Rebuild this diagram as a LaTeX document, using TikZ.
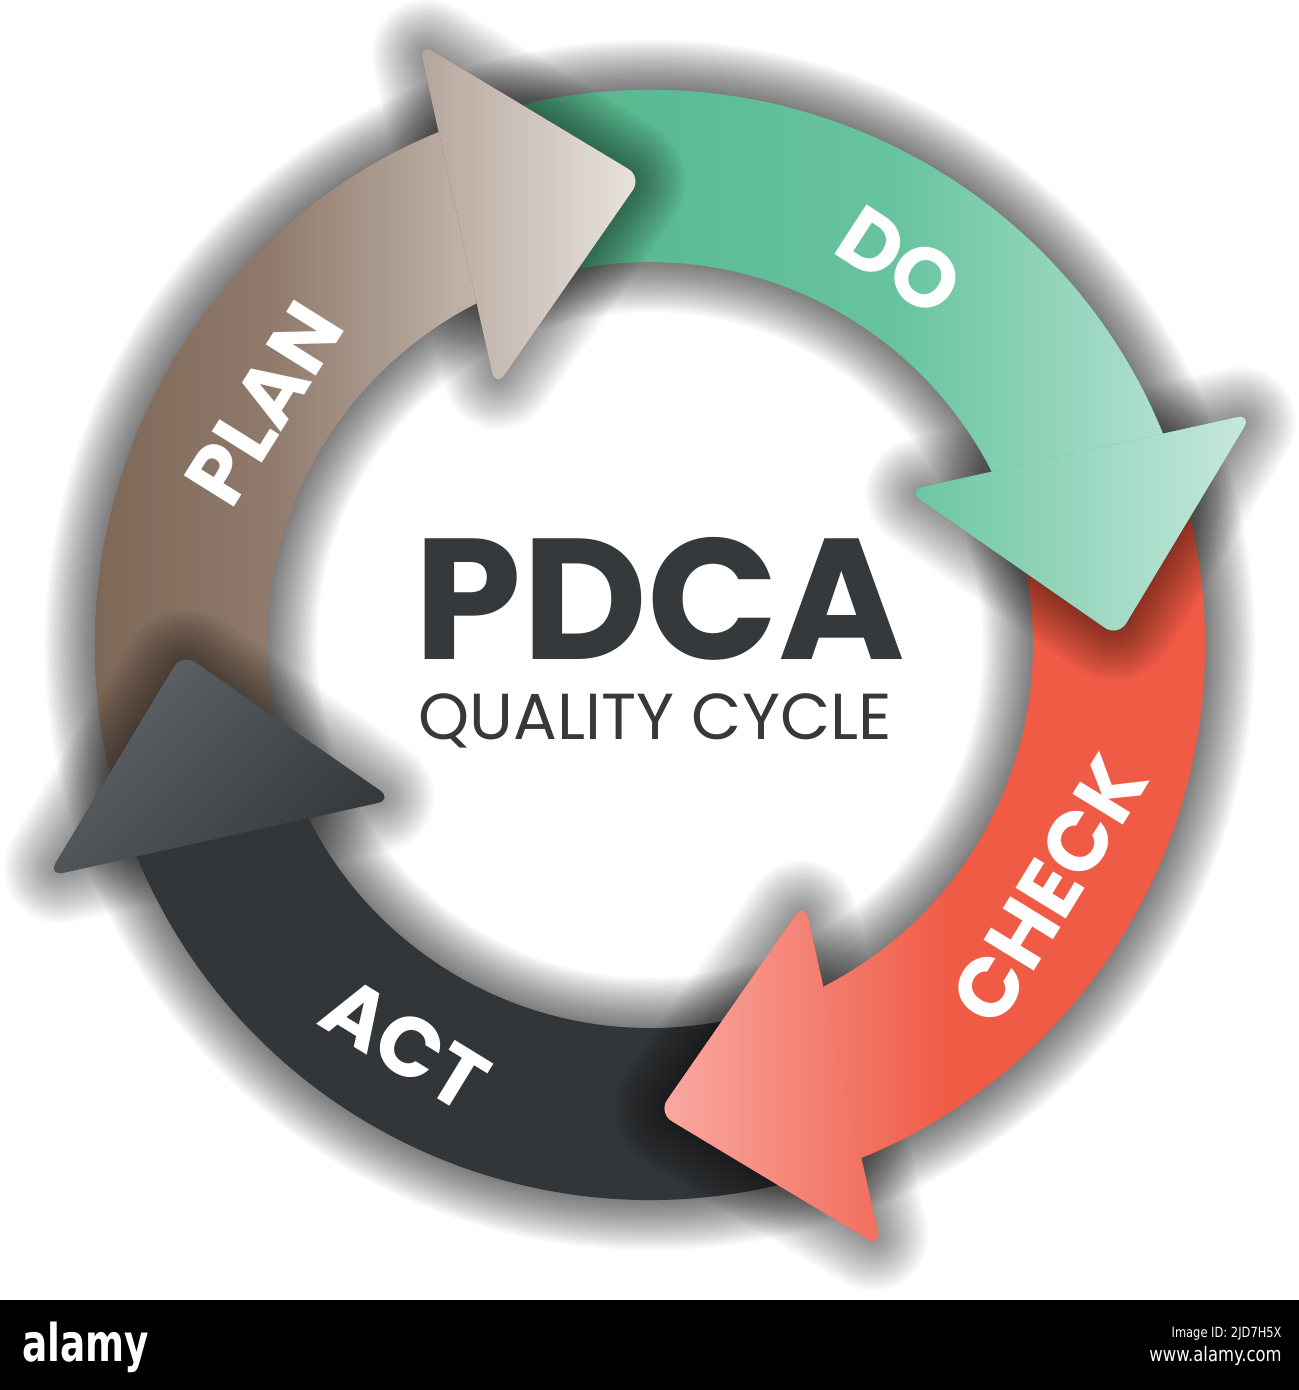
\documentclass[tikz,border=0pt]{standalone}
\usepackage{fontspec}
\newfontfamily\pop{Poppins}
\newfontfamily\dvs{DejaVu Sans}
\definecolor{brownA}{HTML}{7D6858}
\definecolor{brownM}{HTML}{8F7A6B}
\definecolor{brownB}{HTML}{ECE7E2}
\definecolor{greenA}{HTML}{55B68D}
\definecolor{greenM}{HTML}{68C4A0}
\definecolor{greenB}{HTML}{CBEADF}
\definecolor{redA}{HTML}{F05B46}
\definecolor{redL}{HTML}{F9ACA5}
\definecolor{darkA}{HTML}{323639}
\definecolor{darkL}{HTML}{62686D}
\definecolor{txtdark}{HTML}{35393C}
% band from angle #1 (start, under previous head) clockwise to just inside own head (tip angle #2)
\newcommand\bandpath[2]{(#1:555) arc[start angle=#1, end angle=#2+21, radius=555] -- (#2+25:383) arc[start angle=#2+25, end angle=#1, radius=383] -- cycle}
\newcommand\headpath[1]{[rounded corners=8pt] (#1+20:645) -- (#1:468) -- (#1+30:300) -- cycle}
\newcommand\brownfill{\fill[brownA] (-700,-700) rectangle (700,700);
  \shade[left color=brownA, right color=brownM] (-555,-700) rectangle (-380,700);
  \shade[left color=brownM, right color=brownB] (-380.5,-700) rectangle (0,700);}
\newcommand\greenfill{\fill[greenA] (-700,-700) rectangle (700,700);
  \shade[left color=greenA, right color=greenM] (-110,-700) rectangle (250,700);
  \shade[left color=greenM, right color=greenB] (249.5,-700) rectangle (615,700);}
\newcommand\redfill{\fill[redA] (-700,-700) rectangle (700,700); \shade[left color=redL, right color=redA] (0,-700) rectangle (300,700);}
\newcommand\darkbandfill{\fill[darkA] (-700,-700) rectangle (700,700);}
\newcommand\darkheadfill{\fill[darkA] (-700,-700) rectangle (700,700); \shade[top color=darkL, bottom color=darkA, shading angle=45] (-620,-240) rectangle (-240,10);}
% soft shadow: many stacked translucent strokes of growing width
\newcommand\softshadow[2][0.03]{\foreach \k in {1,...,20}{\path[draw=black, line width=2.5*\k pt, draw opacity=#1, line join=round] #2;}}
\newcommand\headshadow[3]{\begin{scope}[even odd rule]\clip (-900,-900) rectangle (900,900) \bandpath{#1}{#2}; \softshadow[0.022]{\headpath{#3}} \end{scope}}
\tikzset{
  lbl/.style={text=white, font=\pop\bfseries\fontsize{42}{42}\selectfont, inner sep=0pt}
}
\begin{document}
\begin{tikzpicture}[x=0.5pt,y=0.5pt]
\useasboundingbox (0,0) rectangle (1299,1390);
\fill[white] (0,0) rectangle (1299,1390);
\begin{scope}[shift={(650,745)}]
  % band shadows
  \softshadow{\bandpath{197}{91}}
  \softshadow{\bandpath{107}{1}}
  \softshadow{\bandpath{17}{-89}}
  \softshadow{\bandpath{287}{181}}
  % bands
  \begin{scope}\clip \bandpath{197}{91}; \brownfill \end{scope}
  \begin{scope}\clip \bandpath{107}{1}; \greenfill \end{scope}
  \begin{scope}\clip \bandpath{17}{-89}; \redfill \end{scope}
  \begin{scope}\clip \bandpath{287}{181}; \darkbandfill \end{scope}
  % heads
  \headshadow{197}{91}{91}
  \begin{scope}\clip \headpath{91}; \brownfill \end{scope}
  \headshadow{107}{1}{1}
  \begin{scope}\clip \headpath{1}; \greenfill \end{scope}
  \headshadow{17}{-89}{-89}
  \begin{scope}\clip \headpath{-89}; \redfill \end{scope}
  \headshadow{287}{181}{181}
  \begin{scope}\clip \headpath{181}; \darkheadfill \end{scope}
  % labels
  \node[lbl, rotate=58] (plan) at (148:455) {PLAN};
  \node[lbl, rotate=-33] (do) at (57:458) {DO};
  \node[lbl, rotate=58.5] (check) at (-31.5:468) {CHECK};
  \node[lbl, rotate=-31.5] (act) at (238.5:468) {ACT};
\end{scope}
% centre title
\node[anchor=base, text=txtdark, inner sep=0pt, font=\pop\bfseries\fontsize{86}{86}\selectfont] (pdca) at (660,730) {PDCA};
\node[anchor=base, text=txtdark, inner sep=0pt, font=\pop\fontsize{32.5}{32.5}\selectfont] (qc) at (655,650) {QUALITY CYCLE};
% bottom bar
\fill[black] (0,0) rectangle (1299,90);
\node[anchor=base west, text=white, inner sep=0pt, font=\dvs\bfseries\fontsize{26}{26}\selectfont] (logo) at (22,28) {\scalebox{0.72}[1]{alamy}};
\node[anchor=base east, text=white, inner sep=0pt, font=\dvs\fontsize{7}{7}\selectfont] (imgid) at (1282,52) {\scalebox{0.82}[1]{Image ID: 2JD7H5X}};
\node[anchor=base east, text=white, inner sep=0pt, font=\dvs\fontsize{10}{10}\selectfont] (www) at (1282,28) {\scalebox{0.82}[1]{www.alamy.com}};
\end{tikzpicture}
\end{document}
